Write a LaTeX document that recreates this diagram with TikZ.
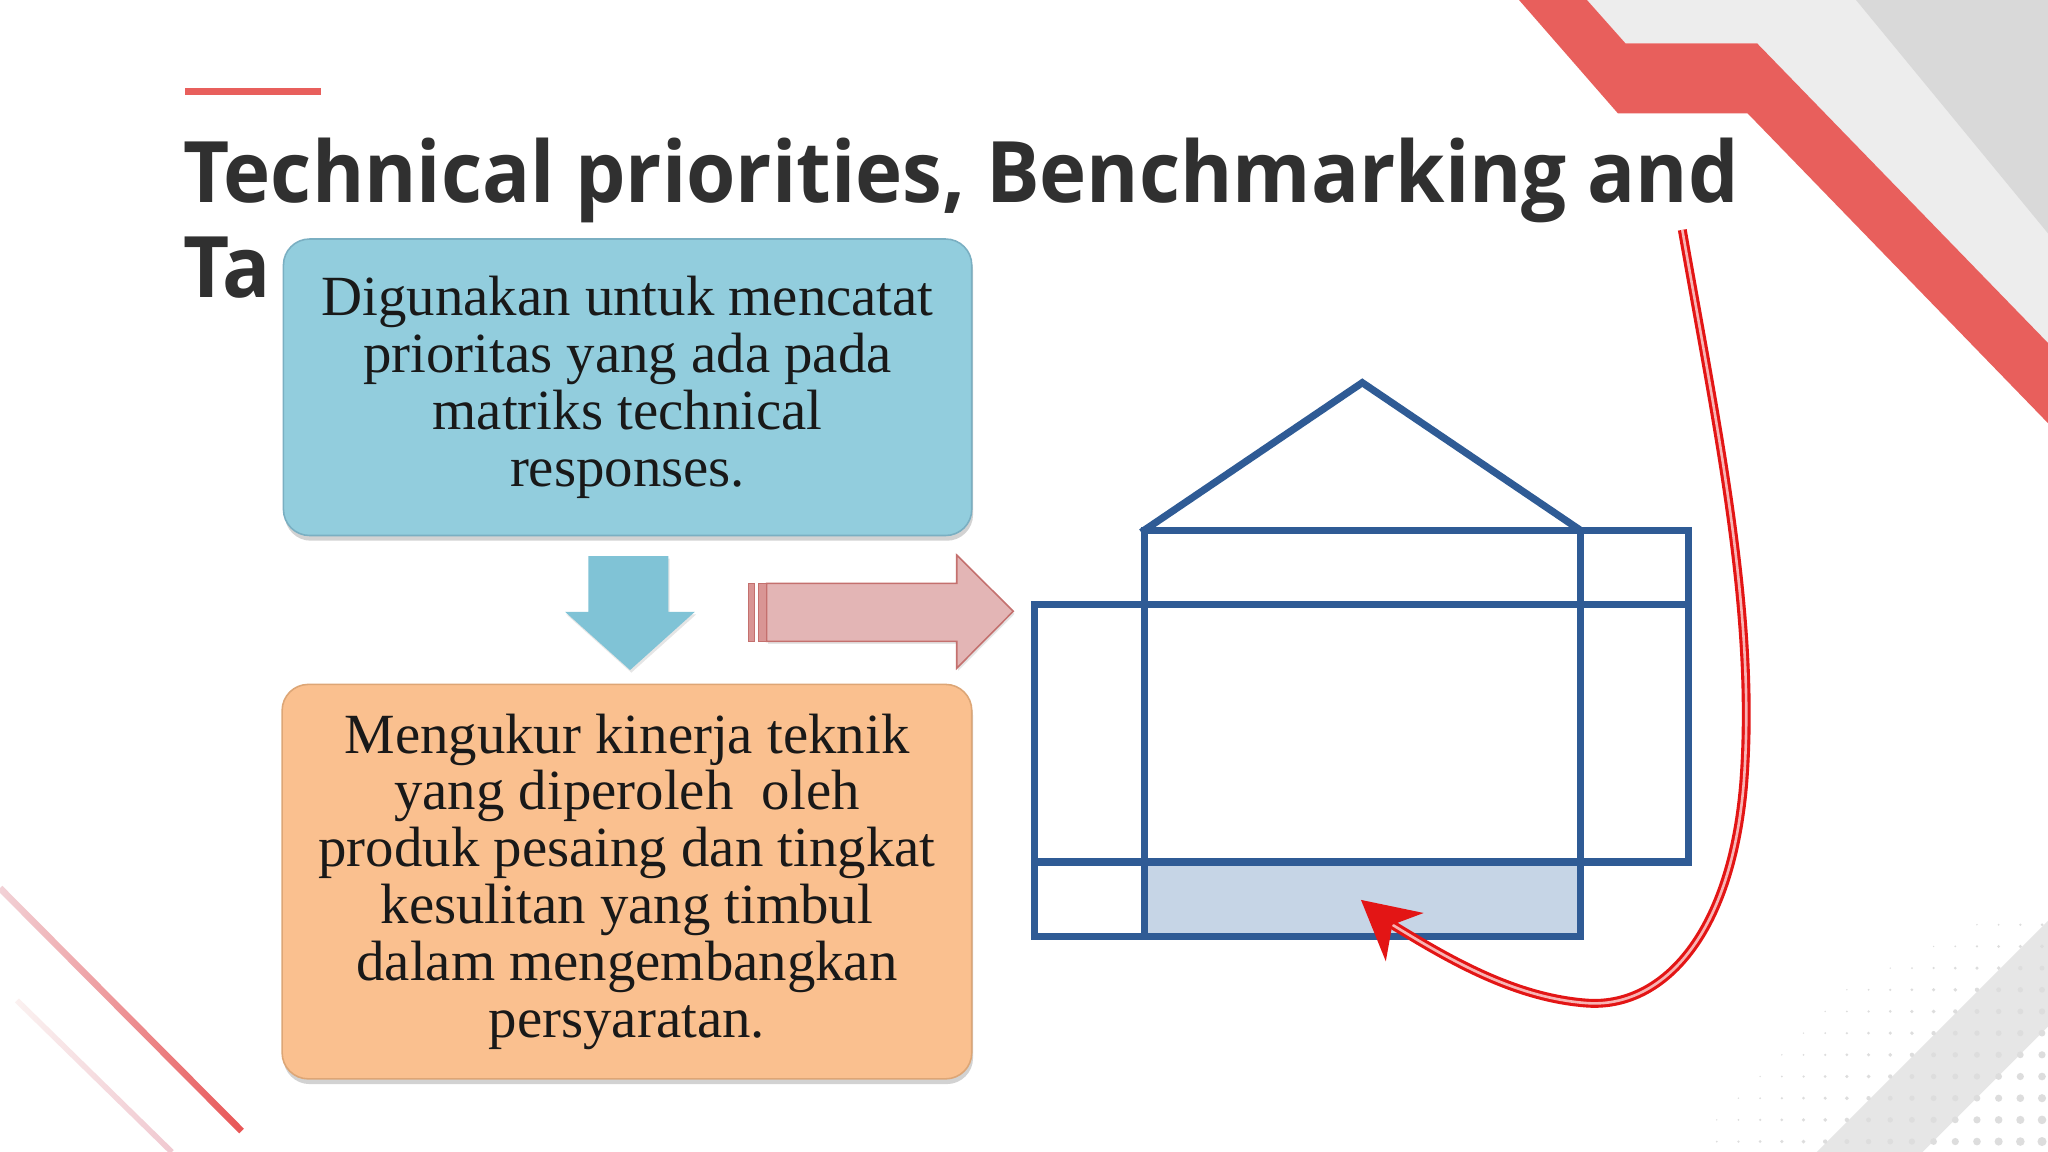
\documentclass[tikz,border=0pt]{standalone}
\usepackage{fontspec}
\usetikzlibrary{shadows}
\newfontfamily\titlefont{Open Sans}[FakeStretch=0.94]
\newfontfamily\boxfont{Liberation Serif}
\definecolor{accent}{HTML}{E85F5C}
\definecolor{lightgray}{HTML}{EDEDED}
\definecolor{darkgray}{HTML}{D9D9D9}
\definecolor{titlegray}{HTML}{303030}
\definecolor{boxblue}{HTML}{92CDDD}
\definecolor{boxblueline}{HTML}{7AAFC2}
\definecolor{arrowblue}{HTML}{80C3D6}
\definecolor{boxorange}{HTML}{FAC08F}
\definecolor{boxorangeline}{HTML}{DDA676}
\definecolor{arrowpink}{HTML}{E3B5B5}
\definecolor{arrowpinkline}{HTML}{C4706E}
\definecolor{arrowpinkdark}{HTML}{D99594}
\definecolor{housecol}{HTML}{2F5B95}
\definecolor{housefill}{HTML}{C6D5E6}
\definecolor{curvered}{HTML}{E31515}
\definecolor{curvecore}{HTML}{F8B4B4}
\definecolor{decopink}{HTML}{F2D3D8}
\definecolor{decored}{HTML}{E85555}
\definecolor{decofaint}{HTML}{FBF1F0}
\definecolor{decofaint2}{HTML}{F0C8D0}
\definecolor{dotgray}{HTML}{DDDDDD}
\definecolor{bandgray}{HTML}{E6E6E6}
\tikzset{
  textbox/.style={rounded corners=20pt, line width=1.2pt, inner sep=0pt,
    align=center, text=black!90,
    font=\boxfont\fontsize{43.5}{43.5}\selectfont,
    drop shadow={shadow xshift=1pt, shadow yshift=-4pt, opacity=0.35}},
  house/.style={draw=housecol, line width=5.5pt, line cap=rect},
  redcurve/.style={draw=curvered, line width=2.4pt, double=curvecore, double distance=2pt},
  titletext/.style={anchor=base west, inner sep=0pt, text=titlegray,
    font=\titlefont\bfseries\fontsize{65}{73}\selectfont},
}
\begin{document}
\begin{tikzpicture}[x=1pt,y=-1pt]
\useasboundingbox (0,0) rectangle (1568,882);
\fill[white] (0,0) rectangle (1568,882);

% top-right decoration
\fill[lightgray] (1215,0) -- (1244.5,33.2) -- (1345.3,33.2) -- (1568,262.6) -- (1568,0) -- cycle;
\fill[darkgray] (1421,0) -- (1568,178.7) -- (1568,0) -- cycle;
\fill[accent] (1163,0) -- (1238.7,86.8) -- (1338,86.8) -- (1568,324) -- (1568,262.6)
  -- (1345.3,33.2) -- (1244.5,33.2) -- (1215,0) -- cycle;

% bottom-left decoration
\shade[left color=decopink, right color=decored]
  (1.8,678.2) -- (186.8,864.2) -- (183.2,867.8) -- (-1.8,681.8) -- cycle;
\shade[left color=decofaint, right color=decofaint2]
  (14.5,764.5) -- (133,880.5) -- (130,883.5) -- (11.5,767.5) -- cycle;

% bottom-right decoration
\fill[bandgray] (1391,882) -- (1568,705) -- (1568,786) -- (1472,882) -- cycle;
\foreach \j in {0,...,10}{
  \foreach \i in {0,...,15}{
    \pgfmathsetmacro{\t}{max(12-2*\j,9-\j)}
    \pgfmathsetmacro{\r}{0.6+0.18*(\i-\t)}
    \ifdim \i pt<\t pt\else
      \fill[dotgray] (1314.4+16.6*\i,708+16.6*\j) circle[radius=\r];
    \fi
  }
}

% accent line and title
\fill[accent] (142,67.5) rectangle (246,72.5);
\node[titletext] (title1) at (140,155) {Technical priorities, Benchmarking and};
\node[titletext] (title2) at (140,228) {Ta};

% text boxes
\node[textbox, fill=boxblue, draw=boxblueline, minimum width=527pt, minimum height=227pt]
  (box1) at (480.5,296.5) {Digunakan untuk mencatat\\prioritas yang ada pada\\matriks technical\\responses.};
\node[textbox, fill=boxorange, draw=boxorangeline, minimum width=528pt, minimum height=302pt]
  (box2) at (480,675) {Mengukur kinerja teknik\\yang diperoleh\ \ oleh\\produk pesaing dan tingkat\\kesulitan yang timbul\\dalam mengembangkan\\persyaratan.};

% blue down arrow
\fill[arrowblue, drop shadow={shadow xshift=1pt, shadow yshift=-2pt, opacity=0.2}]
  (450.5,425.7) -- (511.7,425.7) -- (511.7,468.4) -- (532,468.4) -- (482.4,513)
  -- (432.6,468.4) -- (450.5,468.4) -- cycle;

% pink right arrow
\filldraw[fill=arrowpink, draw=arrowpinkline, line width=1.2pt,
  drop shadow={shadow xshift=1pt, shadow yshift=-2pt, opacity=0.2}]
  (587,446.6) -- (732.5,446.6) -- (732.5,425) -- (775.8,468) -- (732.5,511.6)
  -- (732.5,491) -- (587,491) -- cycle;
\filldraw[fill=arrowpinkdark, draw=arrowpinkline, line width=0.8pt] (573,446.6) rectangle (578,491);
\filldraw[fill=arrowpinkdark, draw=arrowpinkline, line width=0.8pt] (580.6,446.6) rectangle (587,491);

% house of quality
\fill[housefill] (876,660) rectangle (1210,717);
\coordinate (apex) at (1043,293);
\coordinate (tl) at (876,406);
\coordinate (tr) at (1210,406);
\coordinate (tfar) at (1293,406);
\draw[house] (tl) -- (apex) -- (tr);
\draw[house] (tl) -- (tfar) -- (1293,660);
\draw[house] (792,463) -- (1293,463);
\draw[house] (792,660) -- (1293,660);
\draw[house] (792,463) -- (792,717) -- (1210,717);
\draw[house] (tl) -- (876,717);
\draw[house] (tr) -- (1210,717);

% red curved arrow
\coordinate (cstart) at (1288,176);
\coordinate (cnotch) at (1066,708);
\coordinate (ctip) at (1042,689);
\draw[redcurve] (cstart) .. controls (1315,330) and (1345,470) .. (1335,600)
  .. controls (1325,720) and (1270,772) .. (1215,768)
  .. controls (1160,764) and (1110,735) .. (cnotch);
\fill[curvered] (ctip) -- (1090,699) -- (cnotch) -- (1061,736) -- cycle;
\end{tikzpicture}
\end{document}
